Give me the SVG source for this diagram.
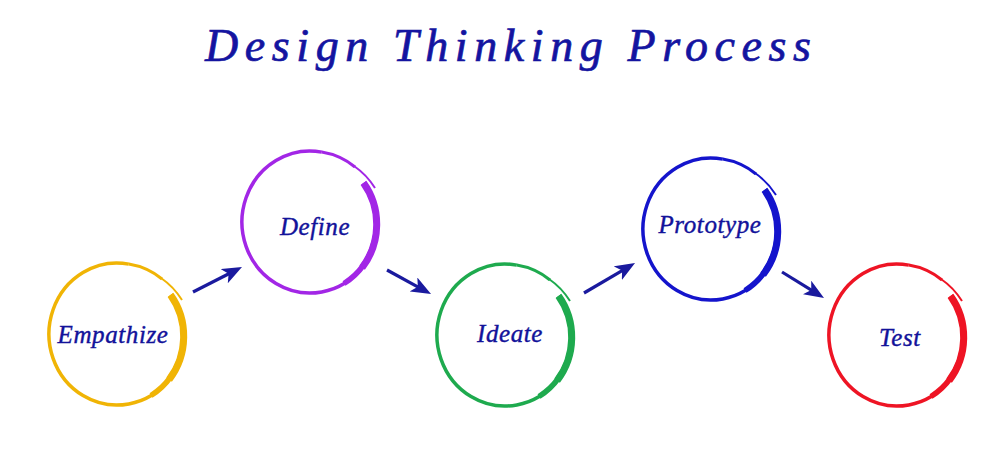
<svg xmlns="http://www.w3.org/2000/svg" xmlns:xlink="http://www.w3.org/1999/xlink" width="1000" height="458" viewBox="0 0 1000 458">
<style>
.title{font-family:"Liberation Serif","Times New Roman",serif;font-style:italic;font-size:46px;fill:#1414A0;stroke:#1414A0;stroke-width:0.7px;letter-spacing:6.6px}
.lbl{font-family:"Liberation Serif","Times New Roman",serif;font-style:italic;font-size:25px;fill:#12129A;stroke:#12129A;stroke-width:0.4px;text-anchor:middle;letter-spacing:0.6px}
.conn line{stroke:#1A1A9E;stroke-width:3.2;marker-end:url(#ah)}
</style>
<defs>
<marker id="ah" viewBox="0 0 20 16" refX="8" refY="8" markerWidth="20" markerHeight="16" markerUnits="userSpaceOnUse" orient="auto">
<path d="M0,0 L20,8 L0,16 L5,8 Z" fill="#1A1A9E"/>
</marker>
<g id="ring" fill="none">
<path d="M52.1,45.6 A68,71 0 1 1 11.8,-69.9" stroke-width="3.5"/>
<path d="M11.8,-69.9 A72,74 0 0 1 45,-55" stroke-width="3"/>
<path d="M44,-56 A74,76 0 0 1 65,-34" stroke-width="2"/>
<path d="M53.5,-39.1 A66,69 0 0 1 34,61.5" stroke-width="5.5"/>
<path d="M53.5,-39.1 A66,69 0 0 1 52.1,45.6" stroke-width="7"/>
</g>
</defs>
<rect width="1000" height="458" fill="#ffffff"/>
<text class="title" x="205" y="61">Design Thinking Process</text>
<g class="conn">
<line x1="193" y1="292" x2="231.3" y2="272.5"/>
<line x1="387" y1="270" x2="420.5" y2="288.3"/>
<line x1="584" y1="293" x2="624.7" y2="269.1"/>
<line x1="782" y1="272" x2="813.8" y2="291.7"/>
</g>
<g id="empathize">
<use xlink:href="#ring" href="#ring" transform="translate(117,334)" stroke="#F0B405"/>
<text class="lbl" x="113" y="343">Empathize</text>
</g>
<g id="define">
<use xlink:href="#ring" href="#ring" transform="translate(310,222)" stroke="#A226E6"/>
<text class="lbl" x="315" y="235">Define</text>
</g>
<g id="ideate">
<use xlink:href="#ring" href="#ring" transform="translate(505,335)" stroke="#1EAA4E"/>
<text class="lbl" x="510" y="342">Ideate</text>
</g>
<g id="prototype">
<use xlink:href="#ring" href="#ring" transform="translate(711,229)" stroke="#1414CC"/>
<text class="lbl" x="710" y="233">Prototype</text>
</g>
<g id="test">
<use xlink:href="#ring" href="#ring" transform="translate(897,335)" stroke="#EE1424"/>
<text class="lbl" x="900" y="346">Test</text>
</g>
</svg>
